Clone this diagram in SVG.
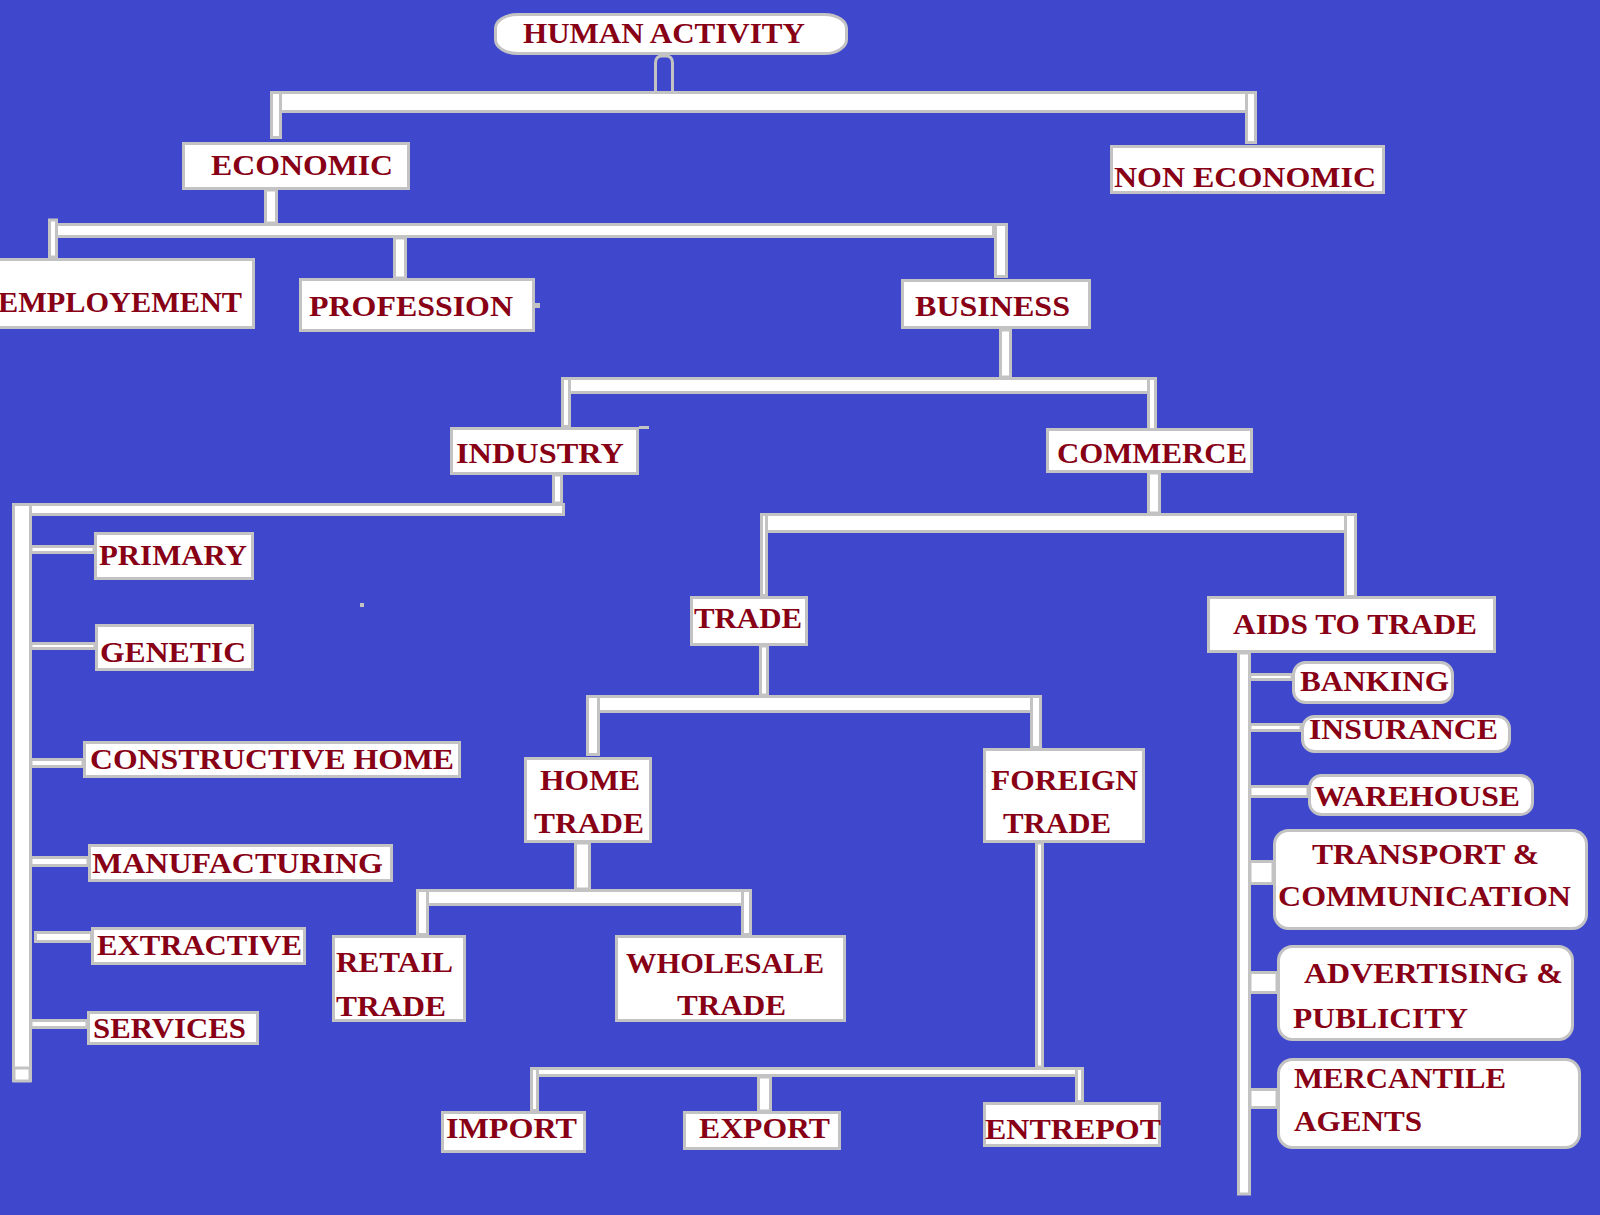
<svg xmlns="http://www.w3.org/2000/svg" width="1600" height="1215" viewBox="0 0 1600 1215">
<style>
.bg{fill:#3F48CC}
.c{fill:#ffffff;stroke:#C3C3C3;stroke-width:3}
.b{fill:#ffffff;stroke:#C3C3C3;stroke-width:3}
.t{font-family:"Liberation Serif","Times New Roman",serif;font-weight:bold;font-size:30px;fill:#880015}
</style>
<rect class="bg" x="0" y="0" width="1600" height="1215"/>
<g id="connectors">
<path d="M655.5 92 V63 Q655.5 56 662 56 H666 Q672.5 56 672.5 63 V92" fill="none" stroke="#C3C3C3" stroke-width="3"/>
<rect class="c" x="271.5" y="92.5" width="984" height="19"/>
<rect class="c" x="271.5" y="92.5" width="9" height="45"/>
<rect class="c" x="1246.5" y="92.5" width="9" height="50"/>
<rect class="c" x="265.5" y="190" width="11" height="33"/>
<rect class="c" x="50.5" y="224.5" width="943" height="12"/>
<rect class="c" x="49.5" y="220" width="7" height="37"/>
<rect class="c" x="394.5" y="238" width="11" height="40"/>
<rect class="c" x="995.5" y="224.5" width="11" height="52"/>
<rect class="c" x="1000.5" y="330" width="10" height="47"/>
<rect class="c" x="562.5" y="378.5" width="593" height="14"/>
<rect class="c" x="562.5" y="378.5" width="7" height="48"/>
<rect class="c" x="1148.5" y="378.5" width="7" height="54"/>
<rect class="c" x="553.5" y="475" width="8" height="28"/>
<rect class="c" x="13.5" y="504.5" width="550" height="10"/>
<rect class="c" x="13.5" y="504.5" width="17" height="576"/>
<rect class="c" x="31" y="546.5" width="63" height="6"/>
<rect class="c" x="31" y="643.5" width="64" height="5"/>
<rect class="c" x="31" y="759.5" width="52" height="7"/>
<rect class="c" x="31" y="857.5" width="57" height="8"/>
<rect class="c" x="35.5" y="932.5" width="56" height="9"/>
<rect class="c" x="31" y="1020.5" width="56" height="7"/>
<rect class="c" x="14" y="1068" width="16" height="13"/>
<rect class="c" x="1148.5" y="473" width="11" height="40"/>
<rect class="c" x="761.5" y="514.5" width="594" height="17"/>
<rect class="c" x="761.5" y="514.5" width="5" height="81"/>
<rect class="c" x="1345.5" y="514.5" width="10" height="82"/>
<rect class="c" x="760.5" y="646" width="7" height="49"/>
<rect class="c" x="587.5" y="696.5" width="453" height="15"/>
<rect class="c" x="587.5" y="696.5" width="11" height="58"/>
<rect class="c" x="1031.5" y="696.5" width="9" height="51"/>
<rect class="c" x="575.5" y="843" width="14" height="46"/>
<rect class="c" x="417.5" y="890.5" width="333" height="14"/>
<rect class="c" x="417.5" y="890.5" width="10" height="44"/>
<rect class="c" x="742.5" y="890.5" width="8" height="44"/>
<rect class="c" x="1036.5" y="843" width="6" height="224"/>
<rect class="c" x="531.5" y="1068.5" width="551" height="7"/>
<rect class="c" x="531.5" y="1068.5" width="6" height="42"/>
<rect class="c" x="758.5" y="1077" width="12" height="34"/>
<rect class="c" x="1076.5" y="1068.5" width="6" height="33"/>
<rect class="c" x="1238.5" y="653" width="11" height="541"/>
<rect class="c" x="1250" y="674.5" width="42" height="5"/>
<rect class="c" x="1250" y="724.5" width="51" height="6"/>
<rect class="c" x="1250" y="786.5" width="58" height="10"/>
<rect class="c" x="1250" y="861.5" width="23" height="22"/>
<rect class="c" x="1250" y="972.5" width="27" height="20"/>
<rect class="c" x="1250" y="1089.5" width="27" height="18"/>
<rect x="639" y="426" width="10" height="3" fill="#C3C3C3"/>
<rect x="535" y="303" width="5" height="5" fill="#C3C3C3"/>
<rect x="360" y="603" width="4" height="4" fill="#C3C3C3"/>
</g>
<g id="human-activity"><rect class="b" x="495.5" y="14.5" width="351" height="39" rx="22" ry="14"/><text class="t" x="523" y="43" textLength="282" lengthAdjust="spacingAndGlyphs">HUMAN ACTIVITY</text></g>
<g id="economic"><rect class="b" x="183.5" y="143.5" width="225" height="45"/><text class="t" x="211" y="175" textLength="182" lengthAdjust="spacingAndGlyphs">ECONOMIC</text></g>
<g id="non-economic"><rect class="b" x="1111.5" y="146.5" width="272" height="46"/><text class="t" x="1114" y="187" textLength="262" lengthAdjust="spacingAndGlyphs">NON ECONOMIC</text></g>
<g id="employement"><rect class="b" x="-5" y="259.5" width="258.5" height="68"/><text class="t" x="-2" y="312" textLength="244" lengthAdjust="spacingAndGlyphs">EMPLOYEMENT</text></g>
<g id="profession"><rect class="b" x="300.5" y="279.5" width="233" height="51"/><text class="t" x="309" y="316" textLength="204" lengthAdjust="spacingAndGlyphs">PROFESSION</text></g>
<g id="business"><rect class="b" x="902.5" y="280.5" width="187" height="47"/><text class="t" x="915" y="316" textLength="155" lengthAdjust="spacingAndGlyphs">BUSINESS</text></g>
<g id="industry"><rect class="b" x="451.5" y="428.5" width="186" height="45"/><text class="t" x="456" y="463" textLength="168" lengthAdjust="spacingAndGlyphs">INDUSTRY</text></g>
<g id="commerce"><rect class="b" x="1047.5" y="429.5" width="204" height="42"/><text class="t" x="1057" y="463" textLength="190" lengthAdjust="spacingAndGlyphs">COMMERCE</text></g>
<g id="primary"><rect class="b" x="95.5" y="533.5" width="157" height="45"/><text class="t" x="99" y="565" textLength="148" lengthAdjust="spacingAndGlyphs">PRIMARY</text></g>
<g id="genetic"><rect class="b" x="96.5" y="625.5" width="156" height="44"/><text class="t" x="100" y="662" textLength="146" lengthAdjust="spacingAndGlyphs">GENETIC</text></g>
<g id="constructive-home"><rect class="b" x="84.5" y="742.5" width="375" height="34"/><text class="t" x="90" y="769" textLength="364" lengthAdjust="spacingAndGlyphs">CONSTRUCTIVE HOME</text></g>
<g id="manufacturing"><rect class="b" x="89.5" y="845.5" width="302" height="35"/><text class="t" x="92" y="873" textLength="291" lengthAdjust="spacingAndGlyphs">MANUFACTURING</text></g>
<g id="extractive"><rect class="b" x="92.5" y="928.5" width="212" height="35"/><text class="t" x="97" y="955" textLength="205" lengthAdjust="spacingAndGlyphs">EXTRACTIVE</text></g>
<g id="services"><rect class="b" x="88.5" y="1012.5" width="169" height="31"/><text class="t" x="93" y="1038" textLength="153" lengthAdjust="spacingAndGlyphs">SERVICES</text></g>
<g id="trade"><rect class="b" x="691.5" y="597.5" width="115" height="47"/><text class="t" x="694" y="628" textLength="108" lengthAdjust="spacingAndGlyphs">TRADE</text></g>
<g id="aids-to-trade"><rect class="b" x="1208.5" y="597.5" width="286" height="54"/><text class="t" x="1233" y="634" textLength="244" lengthAdjust="spacingAndGlyphs">AIDS TO TRADE</text></g>
<g id="home-trade"><rect class="b" x="525.5" y="758.5" width="125" height="83"/><text class="t" x="540" y="790" textLength="100" lengthAdjust="spacingAndGlyphs">HOME</text><text class="t" x="534" y="833" textLength="110" lengthAdjust="spacingAndGlyphs">TRADE</text></g>
<g id="foreign-trade"><rect class="b" x="984.5" y="749.5" width="159" height="92"/><text class="t" x="991" y="790" textLength="147" lengthAdjust="spacingAndGlyphs">FOREIGN</text><text class="t" x="1003" y="833" textLength="108" lengthAdjust="spacingAndGlyphs">TRADE</text></g>
<g id="retail-trade"><rect class="b" x="333.5" y="936.5" width="131" height="84"/><text class="t" x="336" y="972" textLength="117" lengthAdjust="spacingAndGlyphs">RETAIL</text><text class="t" x="336" y="1016" textLength="110" lengthAdjust="spacingAndGlyphs">TRADE</text></g>
<g id="wholesale-trade"><rect class="b" x="616.5" y="936.5" width="228" height="84"/><text class="t" x="626" y="973" textLength="198" lengthAdjust="spacingAndGlyphs">WHOLESALE</text><text class="t" x="677" y="1015" textLength="109" lengthAdjust="spacingAndGlyphs">TRADE</text></g>
<g id="import"><rect class="b" x="442.5" y="1112.5" width="142" height="39"/><text class="t" x="446" y="1138" textLength="131" lengthAdjust="spacingAndGlyphs">IMPORT</text></g>
<g id="export"><rect class="b" x="684.5" y="1112.5" width="155" height="36"/><text class="t" x="699" y="1138" textLength="131" lengthAdjust="spacingAndGlyphs">EXPORT</text></g>
<g id="entrepot"><rect class="b" x="984.5" y="1103.5" width="175" height="42"/><text class="t" x="985" y="1139" textLength="176" lengthAdjust="spacingAndGlyphs">ENTREPOT</text></g>
<g id="banking"><rect class="b" x="1293.5" y="662.5" width="159" height="40" rx="12"/><text class="t" x="1300" y="691" textLength="149" lengthAdjust="spacingAndGlyphs">BANKING</text></g>
<g id="insurance"><rect class="b" x="1302.5" y="716.5" width="207" height="35" rx="12"/><text class="t" x="1309" y="739" textLength="189" lengthAdjust="spacingAndGlyphs">INSURANCE</text></g>
<g id="warehouse"><rect class="b" x="1309.5" y="775.5" width="223" height="39" rx="12"/><text class="t" x="1314" y="806" textLength="206" lengthAdjust="spacingAndGlyphs">WAREHOUSE</text></g>
<g id="transport-communication"><rect class="b" x="1274.5" y="830.5" width="312" height="98" rx="14"/><text class="t" x="1312" y="864" textLength="227" lengthAdjust="spacingAndGlyphs">TRANSPORT &amp;</text><text class="t" x="1278" y="906" textLength="293" lengthAdjust="spacingAndGlyphs">COMMUNICATION</text></g>
<g id="advertising-publicity"><rect class="b" x="1278.5" y="946.5" width="294" height="93" rx="14"/><text class="t" x="1304" y="983" textLength="259" lengthAdjust="spacingAndGlyphs">ADVERTISING &amp;</text><text class="t" x="1293" y="1028" textLength="175" lengthAdjust="spacingAndGlyphs">PUBLICITY</text></g>
<g id="mercantile-agents"><rect class="b" x="1278.5" y="1059.5" width="301" height="88" rx="14"/><text class="t" x="1294" y="1088" textLength="212" lengthAdjust="spacingAndGlyphs">MERCANTILE</text><text class="t" x="1294" y="1131" textLength="128" lengthAdjust="spacingAndGlyphs">AGENTS</text></g>
</svg>
